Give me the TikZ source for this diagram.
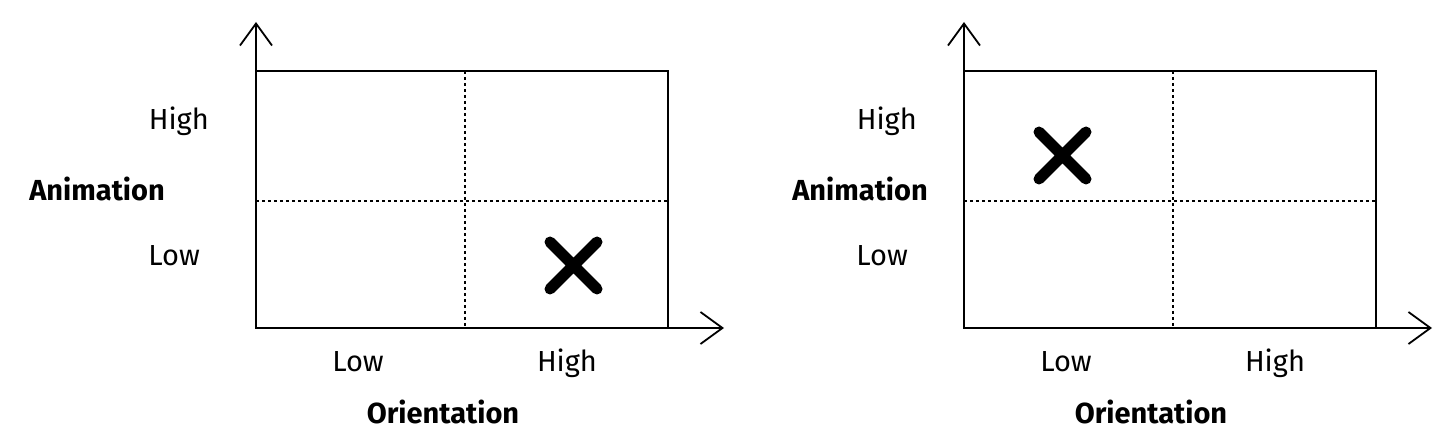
\documentclass[tikz,border=0pt]{standalone}
\usepackage{fontspec}
\setmainfont{Fira Sans}
\usetikzlibrary{arrows.meta}
\begin{document}
\begin{tikzpicture}[x=1pt,y=-1pt,
  axis/.style={line width=1.8pt,-{Straight Barb[length=22pt,width=32pt,line width=1.8pt]}},
  frame/.style={line width=1.8pt},
  grid/.style={line width=1.3pt,dash pattern=on 3pt off 3pt},
  lbl/.style={font=\fontsize{29}{34}\selectfont,inner sep=0pt},
  blbl/.style={font=\fontsize{29}{34}\selectfont\bfseries,inner sep=0pt},
  cross/.style={line width=11pt,line cap=round}]
\useasboundingbox (0,0) rectangle (1446,443);
\foreach \o/\xa/\xb/\xc/\xd in {0/0/0/0/0}{}
% panel macro via scope shift
\foreach \s/\cx/\cy/\hx/\lx/\ax in {0/573/265/209/200/165, 708/1062/155/915/901/928}{
\begin{scope}[xshift=\s]
\coordinate (o) at (256,328);
\coordinate (yt) at (256,22);
\coordinate (xt) at (724,328);
\draw[frame] (256,71) rectangle (668,328);
\draw[grid] (465,71) -- (465,328);
\draw[grid] (256,201) -- (668,201);
\draw[axis] (o) -- (yt);
\draw[axis] (o) -- (xt);
\node[lbl,anchor=base] (xl) at (358,372) {Low};
\node[lbl,anchor=base] (xh) at (567,372) {High};
\node[blbl,anchor=base] (xo) at (443,424) {Orientation};
\end{scope}
}
\node[lbl,anchor=base east] (lh) at (209,130) {High};
\node[lbl,anchor=base east] (ll) at (200,266) {Low};
\node[blbl,anchor=base east] (la) at (165,201) {Animation};
\node[lbl,anchor=base east] (rh) at (917,130) {High};
\node[lbl,anchor=base east] (rl) at (908,266) {Low};
\node[blbl,anchor=base east] (ra) at (928,201) {Animation};
\draw[cross] (550,242) -- (597,289) (550,289) -- (597,242);
\draw[cross] (1039,132) -- (1086,179) (1039,179) -- (1086,132);
\end{tikzpicture}
\end{document}
